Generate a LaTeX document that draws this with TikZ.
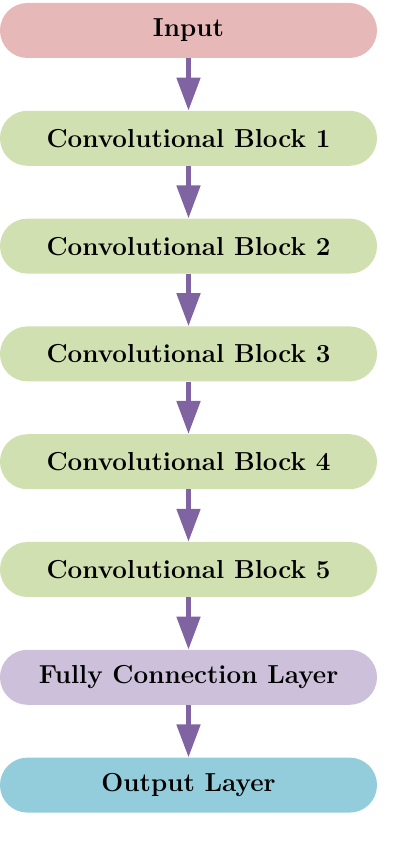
\documentclass[tikz,border=0pt]{standalone}
\usetikzlibrary{arrows.meta}
\definecolor{cin}{HTML}{E6B9B8}
\definecolor{cconv}{HTML}{D1E0B0}
\definecolor{cfc}{HTML}{CCC0DA}
\definecolor{cout}{HTML}{93CDDC}
\definecolor{carr}{HTML}{8064A2}
\begin{document}
\begin{tikzpicture}[x=1pt,y=1pt,
  pill/.style={minimum width=377pt,minimum height=55pt,rounded corners=27.4pt,inner sep=0pt,
    font=\fontsize{26}{30}\selectfont\bfseries},
  flow/.style={draw=carr,line width=5pt,-{Triangle[width=23pt,length=33pt]}}]
\useasboundingbox (0,0) rectangle (412,842);
\node[pill,fill=cin]   (in) at (188.5,811.5) {Input};
\node[pill,fill=cconv] (c1) at (188.5,703.7) {Convolutional Block 1};
\node[pill,fill=cconv] (c2) at (188.5,595.9) {Convolutional Block 2};
\node[pill,fill=cconv] (c3) at (188.5,488.1) {Convolutional Block 3};
\node[pill,fill=cconv] (c4) at (188.5,380.3) {Convolutional Block 4};
\node[pill,fill=cconv] (c5) at (188.5,272.5) {Convolutional Block 5};
\node[pill,fill=cfc]   (fc) at (188.5,164.7) {Fully Connection Layer};
\node[pill,fill=cout]  (out) at (188.5,56.9) {Output Layer};
\foreach \a/\b in {in/c1,c1/c2,c2/c3,c3/c4,c4/c5,c5/fc,fc/out}
  \draw[flow] (\a.south) -- (\b.north);
\end{tikzpicture}
\end{document}
